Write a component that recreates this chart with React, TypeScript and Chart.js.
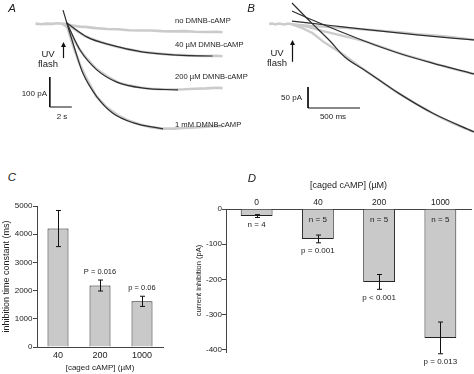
import React, { useEffect, useRef } from 'react';
import { Chart, registerables } from 'chart.js';

Chart.register(...registerables);

const FONT = "'Liberation Sans', Arial, Helvetica, sans-serif";
Chart.defaults.font.family = FONT;
Chart.defaults.color = '#222';

// ---------------- Panel A: whole-cell current (pA) vs time after UV flash (s)
const aNoneT = [-2.5, -2, -1.5, -1, -0.5, 0, 0.5, 1, 1.5, 2, 3, 4, 5, 6, 7, 8, 9, 10, 11, 12, 13, 14, 14.5];
const aNoneI = [-2, -4, -2, -3, -1, -3, -6, -9, -12, -13, -17, -20, -21, -24, -25, -25, -27, -28, -27, -29, -30, -29, -31];
const a40T = [0, 0.4, 1, 2, 3, 4, 5, 6, 7, 8, 9, 10, 11, 12, 13, 14, 14.5];
const a40I = [-3, -3, -20, -44, -58, -70, -80, -88, -95, -99, -103, -106, -107, -109, -110, -109, -111];
const a200T = [0, 0.4, 1, 1.5, 2, 3, 4, 5, 6, 7, 8, 9, 10, 11, 12, 13, 14, 14.5];
const a200I = [-3, -8, -55, -88, -112, -152, -178, -198, -208, -215, -219, -221, -222, -221, -219, -218, -216, -217];
const a1000T = [0, 0.4, 1, 1.5, 2, 3, 4, 5, 6, 7, 8, 9, 10, 11, 12, 13, 14, 14.5];
const a1000I = [-3, -15, -85, -135, -175, -243, -282, -308, -326, -338, -347, -352, -352, -350, -348, -346, -343, -344];
// exponential fits
const aFit40T = [0.35, 2.2, 4.3, 7.3, 10.4, 13.6];
const aFit40I = [0, -47, -73, -97, -107, -110];
const aFit200T = [0.35, 1.55, 3.1, 4.9, 7.3, 10.45];
const aFit200I = [0, -90, -157, -197, -217, -223];
const aFit1000T = [0, 0.35, 1.1, 1.8, 3.1, 4.5, 6.4, 9.1];
const aFit1000I = [43, 0, -90, -167, -247, -300, -333, -353];
// scale bar: 2 s, 100 pA
const aScaleBarT = [-1.2, -1.2, 0.8];
const aScaleBarI = [-180, -280, -280];
const aTraceLabels = ['no DMNB-cAMP', '40 \u00b5M DMNB-cAMP', '200 \u00b5M DMNB-cAMP', '1 mM DMNB-cAMP'];

// ---------------- Panel B: first 1.75 s (ms, pA)
const bBaseT = [-220, -190, -160, -130, -100, -70, -40, -10, 0];
const bBaseI = [0, 1, -1, 1, 0, -1, 1, 0, -1];
const bTraceT = [0, 100, 200, 300, 400, 500, 600, 700, 800, 900, 1000, 1100, 1200, 1300, 1400, 1500, 1600, 1700, 1750];
const bTrace40I = [-1, -3, -5, -6, -8, -9, -11, -13, -15, -17, -19, -21, -24, -26, -28, -30, -33, -36, -38];
const bTrace200I = [-1, -4, -10, -17, -23, -29, -35, -41, -50, -58, -67, -75, -82, -89, -96, -103, -110, -116, -119];
const bTrace1000I = [-1, -10, -22, -42, -58, -74, -92, -110, -127, -144, -161, -176, -191, -205, -219, -231, -242, -252, -257];
const bFit40T = [0, 350, 700, 1200, 1750];
const bFit40I = [7, -3, -13, -26, -38];
const bFit200T = [0, 190, 670, 1020, 1350, 1750];
const bFit200I = [31, 10, -38, -69, -93, -119];
const bFit1000T = [0, 190, 356, 510, 700, 1020, 1350, 1750];
const bFit1000I = [50, 2, -38, -79, -110, -164, -212, -257];
// scale bar: 500 ms, 50 pA
const bScaleBarT = [154, 154, 654];
const bScaleBarI = [-150, -200, -200];

// ---------------- Panel C: inhibition time constant
const cCategories = ['40', '200', '1000'];
const cTau = [4200, 2180, 1620];
const cTauErr = [640, 195, 180];
const cPLabels = ['', 'P = 0.016', 'p = 0.06'];

// ---------------- Panel D: current inhibition
const dCategories = ['0', '40', '200', '1000'];
const dInhibition = [-20, -85, -207, -366];
const dInhibitionErr = [4, 11, 21, 45];
const dNLabels = ['n = 4', 'n = 5', 'n = 5', 'n = 5'];
const dNInside = [false, true, true, true];
const dPLabels = ['', 'p = 0.001', 'p < 0.001', 'p = 0.013'];
const dYTicks = [-400, -300, -200, -100, 0];

// ---------------- helpers
const pts = (xs: number[], ys: number[]) => xs.map((x, i) => ({ x, y: ys[i] }));
const grayDs = (xs: number[], ys: number[], w = 2.6) => ({
  data: pts(xs, ys), borderColor: '#cbcbcb', borderWidth: w, pointRadius: 0, tension: 0, fill: false, order: 3,
});
const fitDs = (xs: number[], ys: number[]) => ({
  data: pts(xs, ys), borderColor: '#2e2e2e', borderWidth: 1.2, pointRadius: 0,
  cubicInterpolationMode: 'monotone', fill: false, order: 1,
});
const barDs = (xs: number[], ys: number[]) => ({
  data: pts(xs, ys), borderColor: '#111', borderWidth: 1, pointRadius: 0, tension: 0, fill: false, order: 0,
});

const flashArrow = (iBottom: number, iTop: number) => ({
  id: 'flashArrow',
  afterDatasetsDraw(chart: any) {
    const { ctx, scales } = chart;
    const px = Math.round(scales.x.getPixelForValue(0)) + 0.5;
    const y0 = scales.y.getPixelForValue(iBottom);
    const y1 = scales.y.getPixelForValue(iTop);
    ctx.save();
    ctx.strokeStyle = '#111';
    ctx.fillStyle = '#111';
    ctx.lineWidth = 1.2;
    ctx.beginPath();
    ctx.moveTo(px, y0);
    ctx.lineTo(px, y1 + 4);
    ctx.stroke();
    ctx.beginPath();
    ctx.moveTo(px, y1);
    ctx.lineTo(px - 2.5, y1 + 5);
    ctx.lineTo(px + 2.5, y1 + 5);
    ctx.closePath();
    ctx.fill();
    ctx.restore();
  },
});

const traceOptions = (xmin: number, xmax: number, ymin: number, ymax: number) => ({
  animation: false,
  responsive: false,
  maintainAspectRatio: false,
  layout: { padding: 0 },
  plugins: { legend: { display: false }, tooltip: { enabled: false } },
  scales: {
    x: { type: 'linear', display: false, min: xmin, max: xmax },
    y: { type: 'linear', display: false, min: ymin, max: ymax },
  },
});

const barAnnotations = (
  values: number[], errs: number[], drawText: (ctx: any, x: number, yScale: any, i: number) => void,
) => ({
  id: 'barAnnotations',
  afterDatasetsDraw(chart: any) {
    const { ctx } = chart;
    const meta = chart.getDatasetMeta(0);
    const yScale = chart.scales.y;
    ctx.save();
    ctx.strokeStyle = '#111';
    ctx.lineWidth = 1;
    values.forEach((v, i) => {
      const x = Math.round(meta.data[i].x) + 0.5;
      const yt = yScale.getPixelForValue(v + errs[i]);
      const yb = yScale.getPixelForValue(v - errs[i]);
      ctx.beginPath();
      ctx.moveTo(x, yt);
      ctx.lineTo(x, yb);
      ctx.moveTo(x - 2.5, yt);
      ctx.lineTo(x + 2.5, yt);
      ctx.moveTo(x - 2.5, yb);
      ctx.lineTo(x + 2.5, yb);
      ctx.stroke();
    });
    ctx.fillStyle = '#222';
    ctx.textAlign = 'center';
    ctx.textBaseline = 'middle';
    values.forEach((_v, i) => drawText(ctx, meta.data[i].x, yScale, i));
    ctx.restore();
  },
});

function ChartBox({ left, top, width, height, make }: any) {
  const ref = useRef<HTMLCanvasElement>(null);
  useEffect(() => {
    const chart = new Chart(ref.current as HTMLCanvasElement, make());
    return () => chart.destroy();
  }, []);
  return (
    <canvas
      ref={ref}
      width={width}
      height={height}
      style={{ position: 'absolute', left, top, width, height }}
    />
  );
}

function Txt({ x, y, size = 8, align = 'center', italic = false, children }: any) {
  const tx = align === 'center' ? '-50%' : align === 'right' ? '-100%' : '0';
  return (
    <div
      style={{
        position: 'absolute', left: x, top: y, transform: `translate(${tx}, -50%)`,
        fontFamily: FONT, fontSize: size, fontStyle: italic ? 'italic' : 'normal',
        whiteSpace: 'nowrap', color: '#222', lineHeight: 1, zIndex: 2,
      }}
    >
      {children}
    </div>
  );
}

const makeA = () => ({
  type: 'line',
  data: {
    datasets: [
      grayDs(aNoneT, aNoneI),
      grayDs(a40T, a40I),
      grayDs(a200T, a200I),
      grayDs(a1000T, a1000I),
      fitDs(aFit40T, aFit40I),
      fitDs(aFit200T, aFit200I),
      fitDs(aFit1000T, aFit1000I),
      barDs(aScaleBarT, aScaleBarI),
    ],
  },
  options: traceOptions(-63 / 11, 174 / 11, -127 / 0.3, 23 / 0.3),
  plugins: [flashArrow(-117, -63)],
});

const makeB = () => ({
  type: 'line',
  data: {
    datasets: [
      grayDs(bBaseT, bBaseI, 2.4),
      grayDs(bTraceT, bTrace40I, 2.4),
      grayDs(bTraceT, bTrace200I, 2.4),
      grayDs(bTraceT, bTrace1000I, 2.4),
      fitDs(bFit40T, bFit40I),
      fitDs(bFit200T, bFit200I),
      fitDs(bFit1000T, bFit1000I),
      barDs(bScaleBarT, bScaleBarI),
    ],
  },
  options: traceOptions(-55 / 0.104, 182 / 0.104, -126 / 0.42, 24 / 0.42),
  plugins: [flashArrow(-90, -38)],
});

const makeC = () => ({
  type: 'bar',
  data: {
    labels: cCategories,
    datasets: [{
      data: cTau, backgroundColor: '#c9c9c9', borderColor: '#222', borderWidth: 1,
      barPercentage: 0.5, categoryPercentage: 1,
    }],
  },
  options: {
    animation: false,
    responsive: false,
    maintainAspectRatio: false,
    layout: { padding: { left: 0, right: 37, top: 19, bottom: 0 } },
    plugins: { legend: { display: false }, tooltip: { enabled: false } },
    scales: {
      x: {
        grid: { display: false, drawTicks: false, tickLength: 0 },
        border: { display: true, color: '#444' },
        ticks: { padding: 3.6, font: { size: 9 }, color: '#222' },
        title: { display: true, text: '[caged cAMP] (\u00b5M)', font: { size: 8 }, color: '#222', padding: { top: 0, bottom: 1.6 } },
        afterFit: (s: any) => { s.height = 27; },
      },
      y: {
        min: 0, max: 5000,
        ticks: { stepSize: 1000, padding: 0.5, font: { size: 8 }, color: '#222', callback: (v: any) => String(v) },
        grid: { drawOnChartArea: false, drawTicks: true, tickLength: 4, color: '#444' },
        border: { display: true, color: '#444' },
        title: { display: true, text: 'inhibition time constant (ms)', font: { size: 9 }, color: '#222', padding: { top: 1.6, bottom: 0 } },
        afterFit: (s: any) => { s.width = 37; },
      },
    },
  },
  plugins: [barAnnotations(cTau, cTauErr, (ctx, x, y, i) => {
    if (!cPLabels[i]) return;
    ctx.font = `7.5px ${FONT}`;
    ctx.fillText(cPLabels[i], x, y.getPixelForValue(cTau[i] + cTauErr[i]) - 8);
  })],
});

const makeD = () => ({
  type: 'bar',
  data: {
    labels: dCategories,
    datasets: [{
      data: dInhibition, backgroundColor: '#c9c9c9', borderColor: '#222', borderWidth: 1,
      barPercentage: 0.52, categoryPercentage: 1,
    }],
  },
  options: {
    animation: false,
    responsive: false,
    maintainAspectRatio: false,
    layout: { padding: { left: 0, right: 3, top: 0, bottom: 22 } },
    plugins: { legend: { display: false }, tooltip: { enabled: false } },
    scales: {
      x: {
        position: 'top',
        grid: { display: false, drawTicks: false, tickLength: 0 },
        border: { display: true, color: '#444' },
        ticks: { padding: 1.6, font: { size: 8.5 }, color: '#222' },
        title: { display: true, text: '[caged cAMP] (\u00b5M)', font: { size: 9 }, color: '#222', padding: { top: 10.6, bottom: 0 } },
        afterFit: (s: any) => { s.height = 39; },
      },
      y: {
        min: -406, max: 0,
        afterBuildTicks: (s: any) => { s.ticks = dYTicks.map((v) => ({ value: v })); },
        ticks: { padding: 0, font: { size: 8 }, color: '#222' },
        grid: { drawOnChartArea: false, drawTicks: true, tickLength: 4, color: '#444' },
        border: { display: true, color: '#444' },
        title: { display: true, text: 'current inhibition (pA)', font: { size: 7.5 }, color: '#222', padding: { top: 8.5, bottom: 0 } },
        afterFit: (s: any) => { s.width = 40; },
      },
    },
  },
  plugins: [barAnnotations(dInhibition, dInhibitionErr, (ctx, x, y, i) => {
    ctx.font = `8px ${FONT}`;
    const yBottom = y.getPixelForValue(dInhibition[i] - dInhibitionErr[i]);
    const yN = dNInside[i] ? y.getPixelForValue(0) + 11 : yBottom + 7;
    ctx.fillText(dNLabels[i], x, yN);
    if (dPLabels[i]) ctx.fillText(dPLabels[i], x, yBottom + 8);
  })],
});

export default function App() {
  return (
    <div style={{ position: 'fixed', left: 0, top: 0, width: 474, height: 374, background: '#fff', overflow: 'hidden' }}>
      <ChartBox left={0} top={0} width={237} height={150} make={makeA} />
      <ChartBox left={237} top={0} width={237} height={150} make={makeB} />
      <ChartBox left={0} top={187} width={200} height={187} make={makeC} />
      <ChartBox left={186} top={170} width={288} height={204} make={makeD} />

      <Txt x={12} y={9} size={11.5} italic>A</Txt>
      <Txt x={251} y={9} size={11.5} italic>B</Txt>
      <Txt x={12} y={178} size={11.5} italic>C</Txt>
      <Txt x={252} y={179} size={11.5} italic>D</Txt>

      <Txt x={175} y={21} size={7.6} align="left">{aTraceLabels[0]}</Txt>
      <Txt x={175} y={45} size={7.6} align="left">{aTraceLabels[1]}</Txt>
      <Txt x={175} y={77} size={7.6} align="left">{aTraceLabels[2]}</Txt>
      <Txt x={175} y={125} size={7.6} align="left">{aTraceLabels[3]}</Txt>

      <Txt x={48} y={54} size={9.5}>UV</Txt>
      <Txt x={48} y={64} size={9.5}>flash</Txt>
      <Txt x={47} y={94} size={8} align="right">100 pA</Txt>
      <Txt x={62} y={117} size={8}>2 s</Txt>

      <Txt x={277} y={53} size={9.5}>UV</Txt>
      <Txt x={277} y={63} size={9.5}>flash</Txt>
      <Txt x={302} y={98} size={8} align="right">50 pA</Txt>
      <Txt x={333} y={117} size={8}>500 ms</Txt>
    </div>
  );
}
